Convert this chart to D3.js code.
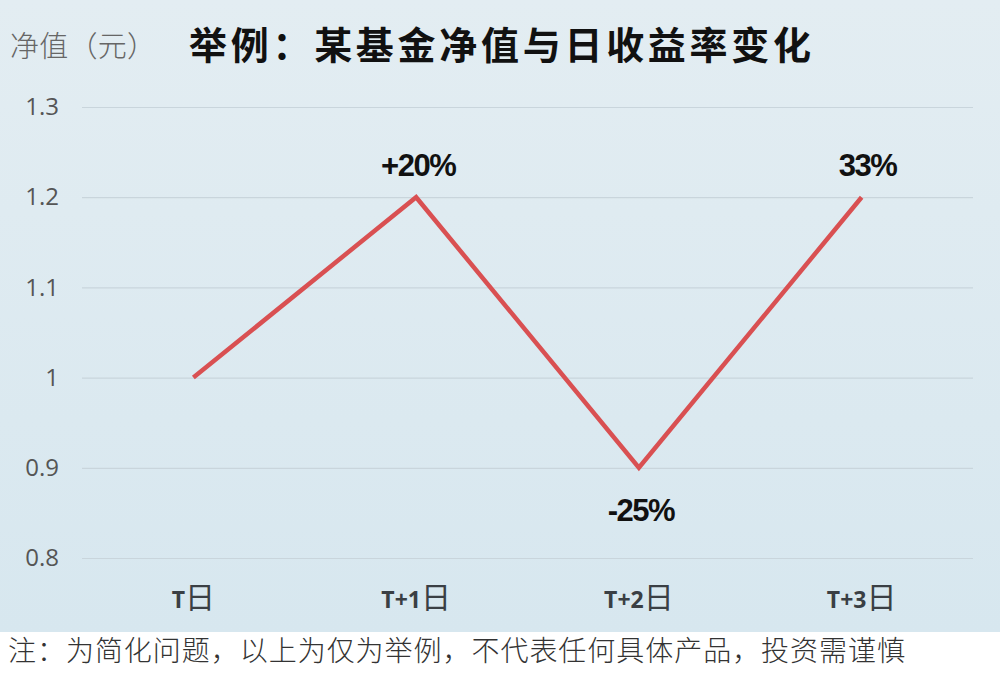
<!DOCTYPE html>
<html>
<head>
<meta charset="utf-8">
<script src="https://cdn.jsdelivr.net/npm/d3@7"></script>
<style>
  body { margin: 0; background: #fff; }
  svg { display: block; }
</style>
</head>
<body>
<script>
const days = ["T日", "T+1日", "T+2日", "T+3日"];
const nav = [1, 1.2, 0.9, 1.2];
const changeLabels = ["", "+20%", "-25%", "33%"];
const yTicks = [0.8, 0.9, 1, 1.1, 1.2, 1.3];

const W = 1000, H = 674;
const plotLeft = 82, plotRight = 973;
const cjk = "'Noto Sans CJK SC', 'Noto Sans', sans-serif";

const svg = d3.select("body").append("svg")
  .attr("width", W)
  .attr("height", H);

const defs = svg.append("defs");
const grad = defs.append("linearGradient")
  .attr("id", "bg")
  .attr("x1", 0).attr("y1", 0).attr("x2", 0).attr("y2", 1);
grad.append("stop").attr("offset", "0%").attr("stop-color", "#e3edf2");
grad.append("stop").attr("offset", "100%").attr("stop-color", "#d7e7ef");

svg.append("rect")
  .attr("width", W).attr("height", 632)
  .attr("fill", "url(#bg)");

const x = d3.scaleBand()
  .domain(days)
  .range([plotLeft, plotRight]);

const y = d3.scaleLinear()
  .domain([0.8, 1.3])
  .range([558, 107]);

// gridlines + tick labels
const yAxis = svg.append("g")
  .attr("transform", `translate(${plotLeft},0)`)
  .call(d3.axisLeft(y).tickValues(yTicks).tickSize(-(plotRight - plotLeft)).tickPadding(23).tickFormat(d3.format("")));
yAxis.select(".domain").remove();
yAxis.selectAll(".tick line").attr("stroke", "#c9d5dc").attr("stroke-width", 1.2);
yAxis.selectAll(".tick text")
  .attr("fill", "#555")
  .attr("font-family", "'Open Sans', sans-serif")
  .attr("font-size", 24);

// x labels
const xAxis = svg.append("g")
  .attr("transform", "translate(0,599)")
  .call(d3.axisBottom(x).tickSize(0).tickPadding(0).tickFormat(() => ""));
xAxis.select(".domain").remove();
xAxis.selectAll(".tick").each(function (d) {
  const t = d3.select(this).append("text")
    .attr("text-anchor", "middle")
    .attr("dy", "0.35em")
    .attr("fill", "#3a3f44")
    .attr("font-size", 25);
  const m = d.match(/^(T[+0-9]*)(日)$/);
  t.append("tspan")
    .attr("font-family", "'Open Sans', sans-serif")
    .attr("font-weight", "bold")
    .attr("font-size", 23)
    .text(m[1]);
  t.append("tspan")
    .attr("font-family", cjk)
    .attr("font-weight", "normal")
    .attr("font-size", 30)
    .text(m[2]);
});

// line
const line = d3.line()
  .x((d, i) => x(days[i]) + x.bandwidth() / 2)
  .y(d => y(d));

svg.append("path")
  .datum(nav)
  .attr("d", line)
  .attr("fill", "none")
  .attr("stroke", "#d95052")
  .attr("stroke-width", 4.5)
  .attr("stroke-linejoin", "miter");

// change labels
svg.append("g")
  .selectAll("text")
  .data(nav)
  .join("text")
  .attr("x", (d, i) => x(days[i]) + x.bandwidth() / 2 + (i === 3 ? 6 : 2))
  .attr("y", (d, i) => i === 2 ? y(d) + 53 : y(d) - 21)
  .attr("text-anchor", "middle")
  .attr("font-family", "'Liberation Sans', Arial, sans-serif")
  .attr("font-weight", "bold")
  .attr("font-size", 31)
  .attr("letter-spacing", "-1.5")
  .attr("fill", "#111")
  .text((d, i) => changeLabels[i]);

// titles
svg.append("text")
  .attr("x", 10).attr("y", 57)
  .attr("font-family", cjk)
  .attr("font-size", 29)
  .attr("font-weight", "300")
  .attr("textLength", 146)
  .attr("fill", "#666")
  .text("净值（元）");

svg.append("text")
  .attr("x", 189).attr("y", 59)
  .attr("font-family", cjk)
  .attr("font-size", 38)
  .attr("font-weight", "bold")
  .attr("textLength", 622)
  .attr("fill", "#111")
  .text("举例：某基金净值与日收益率变化");

svg.append("text")
  .attr("x", 8).attr("y", 661)
  .attr("font-family", cjk)
  .attr("font-size", 28)
  .attr("font-weight", "300")
  .attr("textLength", 897)
  .attr("fill", "#333")
  .text("注：为简化问题，以上为仅为举例，不代表任何具体产品，投资需谨慎");
</script>
</body>
</html>
